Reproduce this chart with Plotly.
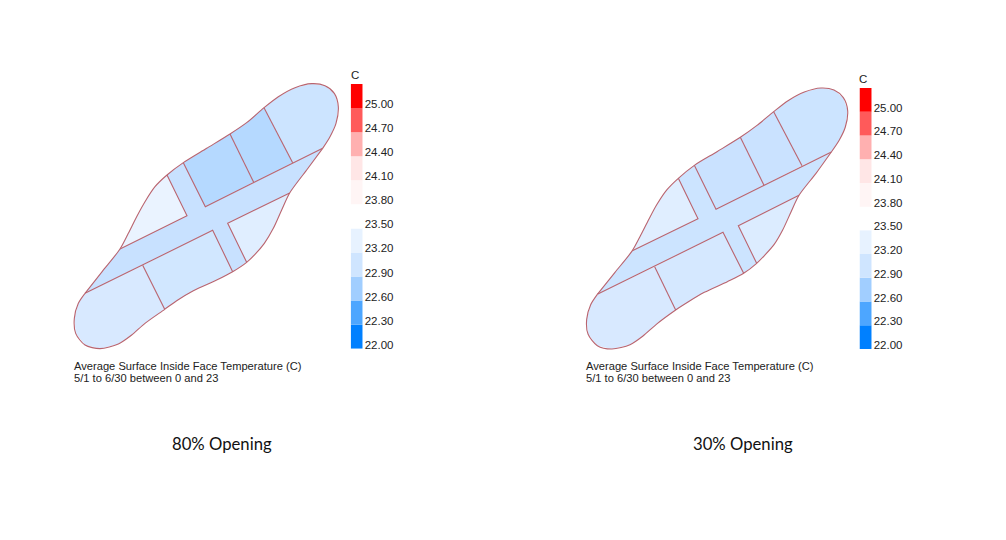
import plotly.graph_objects as go

W = 1006
H = 540

# legend bins, lower edge of each colour band
bin_temps = [22.0, 22.3, 22.6, 22.9, 23.2, 23.5, 23.8, 24.1, 24.4, 24.7, 25.0]
bin_colors = ["#0080FF", "#4DA6FF", "#A1CEFF", "#CFE5FF", "#E7F2FF", "#FFFFFF",
              "#FFF5F5", "#FFE6E6", "#FFB0B0", "#FF5A5A", "#FF0000"]

wall_color = "#B9646F"

# plan outline of the left model (80% opening), walked clockwise from the SW tip
left_outline = [(75, 670), (127, 604), (180, 537), (205, 490), (230, 440), (255, 395),
                (285, 350), (321, 315), (370, 278), (440, 235), (510, 192), (560, 158),
                (612, 113), (655, 80), (705, 53), (755, 41), (795, 47), (823, 70),
                (835, 110), (828, 160), (810, 200), (788, 235), (740, 300), (689, 369),
                (665, 420), (640, 475), (613, 520), (585, 553), (560, 577), (518, 605),
                (470, 630), (400, 662), (350, 692), (314, 718), (255, 760), (215, 795),
                (175, 822), (120, 836), (75, 825), (47, 790), (43, 745), (55, 700), (75, 670)]
# inner corners: P west room, Q/S/R north side of corridor, T/U south side, V south wall
left_inner = {"P": (381, 437), "Q": (436, 410), "R": (698, 278), "S": (581, 337),
              "T": (503, 460), "U": (458, 481), "V": (248, 586)}
left_colors = {"corridor": "#C8E1FF", "ne": "#CCE4FF", "n2": "#B5D9FF", "n1": "#B5D9FF",
               "west": "#EAF3FF", "se": "#E0EEFF", "south": "#D1E7FF", "sw": "#D8E9FF"}

# same model, 30% opening
right_outline = [(82, 658), (135, 592), (187, 527), (212, 481), (237, 432), (261, 388),
                 (291, 344), (325, 310), (373, 271), (441, 230), (511, 187), (560, 152),
                 (611, 110), (654, 77), (703, 51), (753, 39), (792, 45), (820, 68),
                 (833, 107), (826, 156), (808, 195), (784, 231), (738, 295), (687, 361),
                 (663, 411), (638, 465), (612, 509), (584, 541), (560, 565), (521, 595),
                 (472, 620), (403, 652), (354, 681), (317, 705), (259, 748), (219, 783),
                 (180, 809), (126, 822), (82, 812), (54, 777), (50, 733), (62, 689), (82, 658)]
right_inner = {"P": (384, 431), "Q": (438, 403), "R": (696, 272), "S": (582, 331),
               "T": (505, 452), "U": (459, 472), "V": (254, 575)}
right_colors = {"corridor": "#CCE4FF", "ne": "#CCE4FF", "n2": "#CAE2FF", "n1": "#CAE2FF",
                "west": "#E0EEFF", "se": "#DCECFF", "south": "#D5E8FF", "sw": "#D8E9FF"}

# positions of the outer wall corners in the outline lists
A, B, C, D, E, F, G, HH, I, J, K, END = 0, 2, 7, 8, 10, 12, 21, 23, 28, 29, 33, 42

fig = go.Figure()


def add_poly(pts, color, xa, ya):
    fig.add_trace(go.Scatter(x=[p[0] for p in pts], y=[p[1] for p in pts], mode="lines",
                             fill="toself", fillcolor=color, line=dict(width=0),
                             hoverinfo="skip", xaxis=xa, yaxis=ya))


def add_wall(pts, xa, ya, shape="linear"):
    fig.add_trace(go.Scatter(x=[p[0] for p in pts], y=[p[1] for p in pts], mode="lines",
                             line=dict(color=wall_color, width=1.1, shape=shape, smoothing=0.8),
                             hoverinfo="skip", xaxis=xa, yaxis=ya))


def add_plan(o, n, c, xa, ya):
    corridor = [o[A], o[B], n["P"], o[C], o[D], n["Q"], o[G], o[HH], n["T"], o[I], o[J], n["U"], o[A]]
    add_poly(corridor, c["corridor"], xa, ya)
    add_poly(o[F:G + 1] + [n["R"]], c["ne"], xa, ya)
    add_poly(o[E:F + 1] + [n["R"], n["S"]], c["n2"], xa, ya)
    add_poly(o[D:E + 1] + [n["S"], n["Q"]], c["n1"], xa, ya)
    add_poly(o[B:C + 1] + [n["P"]], c["west"], xa, ya)
    add_poly(o[HH:I + 1] + [n["T"]], c["se"], xa, ya)
    add_poly(o[J:K + 1] + [n["V"], n["U"]], c["south"], xa, ya)
    add_poly(o[K:END + 1] + [n["V"]], c["sw"], xa, ya)
    add_wall(o[A:G + 1], xa, ya, "spline")
    add_wall(o[G:END + 1], xa, ya, "spline")
    add_wall([o[C], n["P"], o[B]], xa, ya)
    add_wall([o[D], n["Q"], o[G]], xa, ya)
    add_wall([o[E], n["S"]], xa, ya)
    add_wall([o[F], n["R"]], xa, ya)
    add_wall([o[HH], n["T"], o[I]], xa, ya)
    add_wall([o[J], n["U"], o[A]], xa, ya)
    add_wall([n["V"], o[K]], xa, ya)


add_plan(left_outline, left_inner, left_colors, "x", "y")
add_plan(right_outline, right_inner, right_colors, "x2", "y2")

for xa, ya in [("x3", "y3"), ("x4", "y4")]:
    fig.add_trace(go.Bar(x=[0] * len(bin_temps), y=[0.3] * len(bin_temps), base=bin_temps, width=1,
                         marker=dict(color=bin_colors, line=dict(width=0)),
                         hoverinfo="skip", xaxis=xa, yaxis=ya))

hidden = dict(visible=False, fixedrange=True, automargin=False)


def legend_axis(anchor, domain):
    return dict(domain=domain, range=[22, 25.3], anchor=anchor, side="right", showgrid=False,
                zeroline=False, showline=False, ticks="", tickvals=bin_temps, tickformat=".2f",
                ticklabelshift=-4, ticklabelstandoff=1, fixedrange=True, automargin=False,
                tickfont=dict(family="Liberation Sans", size=11.5, color="#222222"))


fig.update_layout(
    width=W, height=H, margin=dict(l=0, r=0, t=0, b=0, pad=0),
    paper_bgcolor="white", plot_bgcolor="rgba(0,0,0,0)", showlegend=False, barmode="overlay",
    # plan axes keep the units of the outline lists, one unit is a third of a pixel
    xaxis=dict(hidden, domain=[0, 1], range=[-180, 2838]),
    yaxis=dict(hidden, domain=[0, 1], range=[1410, -210]),
    xaxis2=dict(hidden, domain=[0, 1], range=[-1710, 1308], anchor="y2"),
    yaxis2=dict(hidden, domain=[0, 1], range=[1395, -225], anchor="x2"),
    xaxis3=dict(hidden, domain=[350.7 / W, 362.7 / W], range=[-0.5, 0.5], anchor="y3"),
    yaxis3=legend_axis("x3", [1 - 348.7 / H, 1 - 84 / H]),
    xaxis4=dict(hidden, domain=[859.5 / W, 871.7 / W], range=[-0.5, 0.5], anchor="y4"),
    yaxis4=legend_axis("x4", [1 - 349 / H, 1 - 88 / H]),
)


def label(text, x, y, size, family="Liberation Sans", anchor="left", color="#222222"):
    fig.add_annotation(text=text, x=x / W, y=1 - y / H, xref="paper", yref="paper",
                       xanchor=anchor, yanchor="middle", showarrow=False,
                       font=dict(family=family, size=size, color=color))


caption = ["Average Surface Inside Face Temperature (C)", "5/1 to 6/30 between 0 and 23"]
label("C", 348.5, 74.5, 11.5)
label("C", 856.5, 78.5, 11.5)
label(caption[0], 71.5, 366, 11.15)
label(caption[1], 71.5, 378, 11.15)
label(caption[0], 584, 366, 11.15)
label(caption[1], 584, 378, 11.15)
label("80% Opening", 221.5, 444, 16.7, "Lato", "center", "#111111")
label("30% Opening", 743, 444, 16.7, "Lato", "center", "#111111")

fig.write_html("out.html", config={"displayModeBar": False},
               post_script="document.body.style.margin='0';")
